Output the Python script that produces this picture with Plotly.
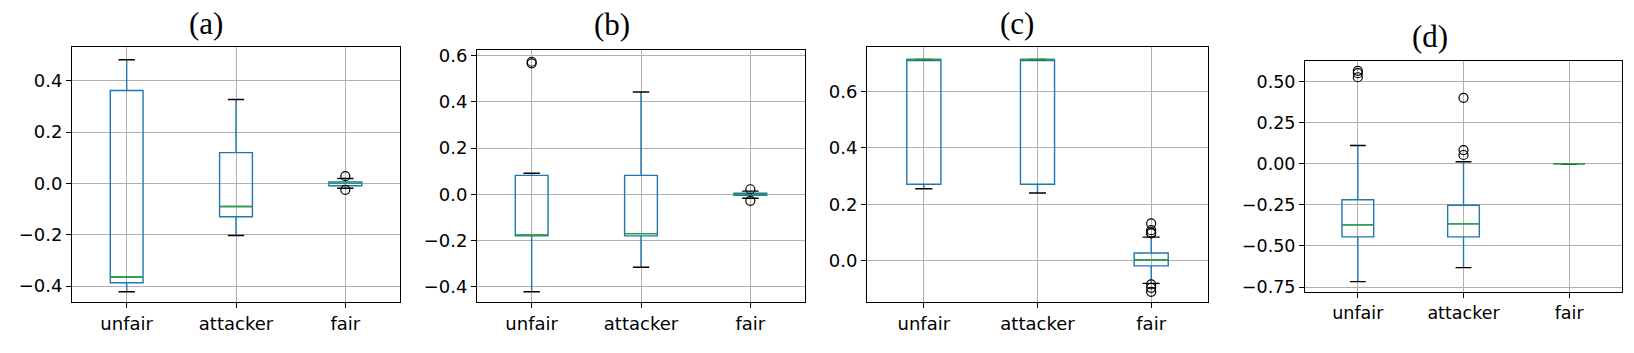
import plotly.graph_objects as go

categories = ["unfair", "attacker", "fair"]
positions = [1, 2, 3]
panel_titles = ["(a)", "(b)", "(c)", "(d)"]

# per-panel box statistics, order: unfair, attacker, fair
a_low = [-0.422, -0.203, -0.019]
a_q1 = [-0.387, -0.130, -0.009]
a_med = [-0.365, -0.090, 0.000]
a_q3 = [0.362, 0.120, 0.006]
a_high = [0.482, 0.327, 0.019]
a_fliers = [[], [], [0.028, -0.025]]

b_low = [-0.422, -0.316, -0.017]
b_q1 = [-0.180, -0.180, -0.004]
b_med = [-0.177, -0.170, 0.000]
b_q3 = [0.082, 0.082, 0.005]
b_high = [0.091, 0.443, 0.014]
b_fliers = [[0.574, 0.567], [], [0.022, -0.028]]

c_low = [0.255, 0.240, -0.081]
c_q1 = [0.271, 0.271, -0.019]
c_med = [0.714, 0.714, 0.003]
c_q3 = [0.714, 0.714, 0.027]
c_high = [0.714, 0.714, 0.083]
c_fliers = [[], [], [0.132, 0.108, 0.100, 0.096, -0.085, -0.097, -0.111]]

d_low = [-0.717, -0.632, 0.0]
d_q1 = [-0.445, -0.445, 0.0]
d_med = [-0.372, -0.366, 0.0]
d_q3 = [-0.219, -0.253, 0.0]
d_high = [0.111, 0.012, 0.0]
d_fliers = [[0.565, 0.551, 0.526], [0.401, 0.083, 0.053], []]

panels = [
    (a_low, a_q1, a_med, a_q3, a_high, a_fliers),
    (b_low, b_q1, b_med, b_q3, b_high, b_fliers),
    (c_low, c_q1, c_med, c_q3, c_high, c_fliers),
    (d_low, d_q1, d_med, d_q3, d_high, d_fliers),
]

yranges = [[-0.463, 0.532], [-0.467, 0.627], [-0.148, 0.759], [-0.779, 0.626]]
ytickvals = [[-0.4, -0.2, 0.0, 0.2, 0.4], [-0.4, -0.2, 0.0, 0.2, 0.4, 0.6],
             [0.0, 0.2, 0.4, 0.6], [-0.75, -0.5, -0.25, 0.0, 0.25, 0.5]]
ytickfmt = [".1f", ".1f", ".1f", ".2f"]

W, H = 1634, 353
# pixel frames of each plot area: x0, x1, y0(top), y1(bottom)
frames = [(72, 400, 44, 306), (477, 805, 46.7, 306), (867, 1208, 44, 306), (1305, 1622, 58.3, 295.3)]
# title centre x and top y (pixels)
title_pos = [(206, 0), (612, 1), (1017, 0), (1430, 13)]
font_sizes = [18, 18, 18, 17.5]

BLUE = "#1f77b4"
GREEN = "#2ca02c"
BOX_W = 0.3
CAP_W = 0.15

fig = go.Figure()
layout = dict(width=W, height=H, margin=dict(l=0, r=0, t=0, b=0),
              paper_bgcolor="white", plot_bgcolor="white", showlegend=False,
              font=dict(family="DejaVu Sans", color="black"))
annotations = []

for i, (low, q1, med, q3, high, fliers) in enumerate(panels):
    n = i + 1
    xa = "x" if n == 1 else f"x{n}"
    ya = "y" if n == 1 else f"y{n}"
    fig.add_trace(go.Box(x=positions, q1=q1, median=med, q3=q3, lowerfence=low, upperfence=high,
                         width=BOX_W, whiskerwidth=0, boxpoints=False,
                         line=dict(color=BLUE, width=1.4), fillcolor="rgba(0,0,0,0)",
                         xaxis=xa, yaxis=ya, hoverinfo="skip"))
    # caps
    cx, cy = [], []
    for p, lo, hi in zip(positions, low, high):
        for v in (lo, hi):
            cx += [p - CAP_W / 2, p + CAP_W / 2, None]
            cy += [v, v, None]
    fig.add_trace(go.Scatter(x=cx, y=cy, mode="lines", line=dict(color="black", width=1.4),
                             xaxis=xa, yaxis=ya, hoverinfo="skip"))
    # medians
    mx, my = [], []
    for p, m in zip(positions, med):
        mx += [p - BOX_W / 2, p + BOX_W / 2, None]
        my += [m, m, None]
    fig.add_trace(go.Scatter(x=mx, y=my, mode="lines", line=dict(color=GREEN, width=1.4),
                             xaxis=xa, yaxis=ya, hoverinfo="skip"))
    # fliers
    fx, fy = [], []
    for p, fl in zip(positions, fliers):
        for v in fl:
            fx.append(p)
            fy.append(v)
    if fx:
        fig.add_trace(go.Scatter(x=fx, y=fy, mode="markers",
                                 marker=dict(symbol="circle-open", size=9, color="black",
                                             line=dict(width=1.2, color="black")),
                                 xaxis=xa, yaxis=ya, hoverinfo="skip"))
    x0, x1, y0, y1 = frames[i]
    fs = font_sizes[i]
    axis_common = dict(showline=True, mirror=True, linecolor="black", linewidth=1,
                       ticks="outside", ticklen=5, tickwidth=1, tickcolor="black",
                       showgrid=True, gridcolor="#b0b0b0", gridwidth=1, zeroline=False,
                       tickfont=dict(family="DejaVu Sans", size=fs, color="black"))
    layout["xaxis" if n == 1 else f"xaxis{n}"] = dict(
        domain=[x0 / W, x1 / W], range=[0.5, 3.5], tickvals=positions, ticktext=categories,
        anchor=ya, **axis_common)
    layout["yaxis" if n == 1 else f"yaxis{n}"] = dict(
        domain=[1 - y1 / H, 1 - y0 / H], range=yranges[i], tickvals=ytickvals[i],
        tickformat=ytickfmt[i], anchor=xa, **axis_common)
    tx, ty = title_pos[i]
    annotations.append(dict(text=panel_titles[i], x=tx / W, y=1 - ty / H, xref="paper", yref="paper",
                            showarrow=False, xanchor="center", yanchor="top",
                            font=dict(family="Liberation Serif", size=31, color="black")))

layout["annotations"] = annotations
fig.update_layout(**layout)
fig.write_html("out.html", config={"displayModeBar": False})

# remove default page margin so the figure sits at the window origin
with open("out.html", "r", encoding="utf-8") as f:
    html = f.read()
html = html.replace("<head>", "<head><style>html,body{margin:0;padding:0;overflow:hidden;}</style>", 1)
with open("out.html", "w", encoding="utf-8") as f:
    f.write(html)
